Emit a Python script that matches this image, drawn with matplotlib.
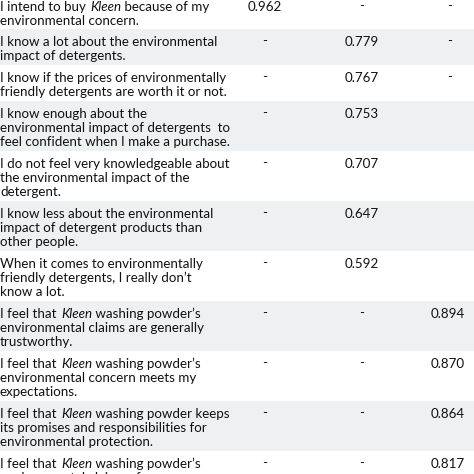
import matplotlib.pyplot as plt
from matplotlib.patches import Rectangle

# Items: list of lines; each line list of (text, italic)
items = [
    [[("I intend to buy ", 0), ("Kleen", 1), (" because of my", 0)], [("environmental concern.", 0)]],
    [[("I know a lot about the environmental", 0)], [("impact of detergents.", 0)]],
    [[("I know if the prices of environmentally", 0)], [("friendly detergents are worth it or not.", 0)]],
    [[("I know enough about the", 0)], [("environmental impact of detergents  to", 0)],
     [("feel confident when I make a purchase.", 0)]],
    [[("I do not feel very knowledgeable about", 0)], [("the environmental impact of the", 0)], [("detergent.", 0)]],
    [[("I know less about the environmental", 0)], [("impact of detergent products than", 0)], [("other people.", 0)]],
    [[("When it comes to environmentally", 0)], [("friendly detergents, I really don\u2019t", 0)], [("know a lot.", 0)]],
    [[("I feel that ", 0), ("Kleen", 1), (" washing powder\u2019s", 0)], [("environmental claims are generally", 0)],
     [("trustworthy.", 0)]],
    [[("I feel that ", 0), ("Kleen", 1), (" washing powder\u2019s", 0)], [("environmental concern meets my", 0)],
     [("expectations.", 0)]],
    [[("I feel that ", 0), ("Kleen", 1), (" washing powder keeps", 0)], [("its promises and responsibilities for", 0)],
     [("environmental protection.", 0)]],
    [[("I feel that ", 0), ("Kleen", 1), (" washing powder\u2019s", 0)], [("environmental claims of . . .", 0)]],
]
col1 = ["0.962", "-", "-", "-", "-", "-", "-", "-", "-", "-", "-"]
col2 = ["-", "0.779", "0.767", "0.753", "0.707", "0.647", "0.592", "-", "-", "-", "-"]
col3 = ["-", "-", "-", "", "", "", "", "0.894", "0.870", "0.864", "0.817"]
row_tops = [-6, 29, 65, 101, 151, 201, 251, 301, 351, 401, 451, 501]

fig = plt.figure(figsize=(4.74, 4.74), dpi=100)
ax = fig.add_axes([0, 0, 1, 1])
ax.set_xlim(0, 474)
ax.set_ylim(474, 0)
ax.axis("off")
fig.canvas.draw()
r = fig.canvas.get_renderer()

fs = 9.6
fam = "Lato"
ink = "#111111"
for i, lines in enumerate(items):
    top = row_tops[i]
    if i % 2 == 1:
        ax.add_patch(Rectangle((0, top), 474, row_tops[i + 1] - top, color="#eef0f1", lw=0))
    for j, parts in enumerate(lines):
        y = top + 12.5 + j * 14
        x = 0
        for txt, it in parts:
            t = ax.text(x, y, txt, fontsize=fs, family=fam, style="italic" if it else "normal",
                        va="center", ha="left", color=ink)
            x += t.get_window_extent(r).width
            if txt.endswith(" "):
                x += 1
    y = top + 12.5
    ax.text(265, y, col1[i], fontsize=fs, family=fam, ha="center", va="center", color=ink)
    ax.text(362, y, col2[i], fontsize=fs, family=fam, ha="center", va="center", color=ink)
    if col3[i] == "-":
        ax.text(450, y, "-", fontsize=fs, family=fam, ha="center", va="center", color=ink)
    else:
        ax.text(465, y, col3[i], fontsize=fs, family=fam, ha="right", va="center", color=ink)

fig.savefig("out.png", dpi=100)
